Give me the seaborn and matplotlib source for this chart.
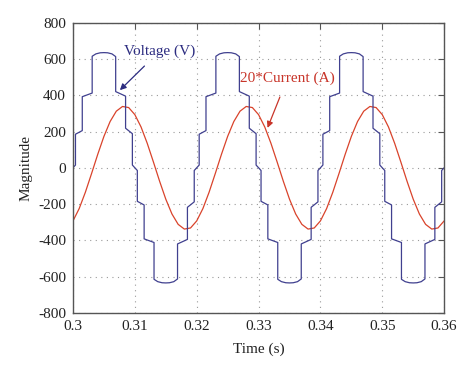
import matplotlib
matplotlib.use('Agg')
import matplotlib.pyplot as plt
import seaborn as sns
import pandas as pd

# voltage staircase breakpoints (s, V)
volt_t = [0.3000,
          0.3004, 0.3004, 0.3015, 0.3015, 0.3031, 0.3031, 0.3037, 0.3044, 0.3050, 0.3056, 0.3063, 0.3069, 0.3069, 0.3085, 0.3085, 0.3096, 0.3096,
          0.3104, 0.3104, 0.3115, 0.3115, 0.3131, 0.3131, 0.3137, 0.3144, 0.3150, 0.3156, 0.3163, 0.3169, 0.3169, 0.3185, 0.3185, 0.3196, 0.3196,
          0.3204, 0.3204, 0.3215, 0.3215, 0.3231, 0.3231, 0.3237, 0.3244, 0.3250, 0.3256, 0.3263, 0.3269, 0.3269, 0.3285, 0.3285, 0.3296, 0.3296,
          0.3304, 0.3304, 0.3315, 0.3315, 0.3331, 0.3331, 0.3337, 0.3344, 0.3350, 0.3356, 0.3363, 0.3369, 0.3369, 0.3385, 0.3385, 0.3396, 0.3396,
          0.3404, 0.3404, 0.3415, 0.3415, 0.3431, 0.3431, 0.3437, 0.3444, 0.3450, 0.3456, 0.3463, 0.3469, 0.3469, 0.3485, 0.3485, 0.3496, 0.3496,
          0.3504, 0.3504, 0.3515, 0.3515, 0.3531, 0.3531, 0.3537, 0.3544, 0.3550, 0.3556, 0.3563, 0.3569, 0.3569, 0.3585, 0.3585, 0.3596, 0.3596,
          0.3600]
volt_v = [0,
          15, 185, 205, 392, 412, 615, 628, 634, 635, 634, 628, 613, 420, 395, 218, 188, 15,
          -15, -185, -205, -392, -412, -615, -628, -634, -635, -634, -628, -613, -420, -395, -218, -188, -15,
          15, 185, 205, 392, 412, 615, 628, 634, 635, 634, 628, 613, 420, 395, 218, 188, 15,
          -15, -185, -205, -392, -412, -615, -628, -634, -635, -634, -628, -613, -420, -395, -218, -188, -15,
          15, 185, 205, 392, 412, 615, 628, 634, 635, 634, 628, 613, 420, 395, 218, 188, 15,
          -15, -185, -205, -392, -412, -615, -628, -634, -635, -634, -628, -613, -420, -395, -218, -188, -15,
          0]

# 20*current sampled every 1 ms from 0.300 to 0.360
curr_t = [round(0.300 + 0.001 * i, 3) for i in range(61)]
curr_v = [-293, -225, -135, -32, 74, 173, 255, 312, 338, 332, 293, 225, 135, 32, -74, -173, -255, -312, -338, -332,
          -293, -225, -135, -32, 74, 173, 255, 312, 338, 332, 293, 225, 135, 32, -74, -173, -255, -312, -338, -332,
          -293, -225, -135, -32, 74, 173, 255, 312, 338, 332, 293, 225, 135, 32, -74, -173, -255, -312, -338, -332,
          -293]

x_ticks = [0.30, 0.31, 0.32, 0.33, 0.34, 0.35, 0.36]
x_labels = ['0.3', '0.31', '0.32', '0.33', '0.34', '0.35', '0.36']
y_ticks = [800, 600, 400, 200, 0, -200, -400, -600, -800]
y_labels = ['800', '600', '400', '200', '0', '-200', '-400', '-600', '-800']

volt_color = '#40408f'
curr_color = '#d9432b'

sns.set_style('white')
plt.rcParams['font.family'] = ['Liberation Serif', 'DejaVu Serif']
plt.rcParams['font.size'] = 11

volt_df = pd.DataFrame({'t': volt_t, 'v': volt_v})
curr_df = pd.DataFrame({'t': curr_t, 'v': curr_v})

fig = plt.figure(figsize=(4.74, 3.72), dpi=100)
ax = fig.add_axes([0.154, 0.159, 0.783, 0.780])

sns.lineplot(data=curr_df, x='t', y='v', color=curr_color, lw=0.9,
             estimator=None, sort=False, ax=ax)
sns.lineplot(data=volt_df, x='t', y='v', color=volt_color, lw=0.9,
             estimator=None, sort=False, ax=ax)

ax.set_xlim(0.3, 0.36)
ax.set_ylim(-800, 800)
ax.set_xticks(x_ticks)
ax.set_xticklabels(x_labels)
ax.set_yticks(y_ticks)
ax.set_yticklabels(y_labels)
ax.tick_params(direction='in', top=True, right=True, length=4, width=0.8,
               color='#555555', labelsize=11, labelcolor='#222222')
ax.tick_params(axis='x', pad=5)
ax.tick_params(axis='y', pad=5)
ax.grid(True, color='#9a9a9a', linestyle=(0, (1, 4)), linewidth=0.8)
for s in ax.spines.values():
    s.set_color('#555555')
    s.set_linewidth(1.0)

ax.set_xlabel('Time (s)', fontsize=11, color='#222222', labelpad=7)
ax.set_ylabel('Magnitude', fontsize=11, color='#222222', labelpad=4)

ax.annotate('Voltage (V)', xy=(0.30758, 428), xytext=(0.3140, 643),
            color='#2c2c80', fontsize=11, ha='center', va='center',
            arrowprops=dict(arrowstyle='-|>', color='#2c2c80', lw=0.9,
                            mutation_scale=9, shrinkA=5, shrinkB=0))
ax.annotate('20*Current (A)', xy=(0.33145, 220), xytext=(0.33468, 495),
            color='#c8352a', fontsize=11, ha='center', va='center',
            arrowprops=dict(arrowstyle='-|>', color='#c8352a', lw=0.9,
                            mutation_scale=9, shrinkA=7, shrinkB=0))

fig.savefig('out.png', dpi=100)
